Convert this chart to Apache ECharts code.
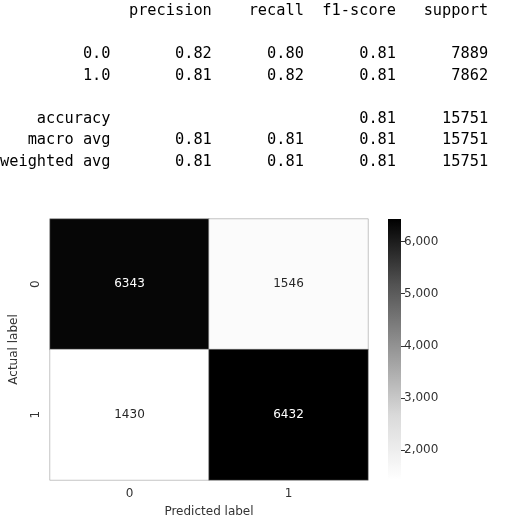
<!DOCTYPE html>
<html>
<head>
<meta charset="utf-8">
<script src="https://cdn.jsdelivr.net/npm/echarts@6/dist/echarts.min.js"></script>
<style>html,body{margin:0;padding:0;background:#fff}#main{width:507px;height:526px}</style>
</head>
<body>
<div id="main"></div>
<script>
var chartDom = document.getElementById('main');
var myChart = echarts.init(chartDom);

// 分类报告
var reportHead = ['precision', 'recall', 'f1-score', 'support'];
var reportNames = ['0.0', '1.0'];
var reportRows = [[0.82, 0.80, 0.81, 7889], [0.81, 0.82, 0.81, 7862]];
var accuracy = [0.81, 15751];
var avgNames = ['macro avg', 'weighted avg'];
var avgRows = [[0.81, 0.81, 0.81, 15751], [0.81, 0.81, 0.81, 15751]];

// 混淆矩阵
var labels = ['0', '1'];
var matrix = [[6343, 1546], [1430, 6432]];
var vMin = 1430, vMax = 6432;
var cbTicks = [2000, 3000, 4000, 5000, 6000];

function padL(s, n) { s = String(s); while (s.length < n) s = ' ' + s; return s; }
function row(name, r) {
    return padL(name, 12) + ' ' + ' ' + padL(r[0].toFixed(2), 9) + ' ' + padL(r[1].toFixed(2), 9) +
        ' ' + padL(r[2].toFixed(2), 9) + ' ' + padL(r[3], 9);
}
var lines = [];
lines.push(padL('', 12) + ' ' + reportHead.map(function(h) { return ' ' + padL(h, 9); }).join(''));
lines.push('');
for (var i = 0; i < reportNames.length; i++) lines.push(row(reportNames[i], reportRows[i]));
lines.push('');
lines.push(padL('accuracy', 12) + ' ' + padL('', 10) + padL('', 10) + ' ' + padL(accuracy[0].toFixed(2), 9) + ' ' + padL(accuracy[1], 9));
for (var i = 0; i < avgNames.length; i++) lines.push(row(avgNames[i], avgRows[i]));

var cells = [];
for (var r = 0; r < matrix.length; r++) {
    for (var c = 0; c < matrix[r].length; c++) {
        var v = matrix[r][c];
        cells.push({ value: [c, r, v], label: { color: v > (vMin + vMax) / 2 ? '#ffffff' : '#262626' } });
    }
}

var font = 'DejaVu Sans';
var option = {
    animation: false,
    graphic: [{
        type: 'text', left: 0, top: 0,
        style: { text: lines.join('\n'), font: '15.3px "DejaVu Sans Mono"', lineHeight: 21.6, fill: '#000' }
    }],
    grid: [
        { left: 46, right: 139, top: 219, bottom: 46 },
        { left: 388, width: 13, top: 219, bottom: 46 }
    ],
    xAxis: [{
        type: 'category', data: labels, gridIndex: 0,
        name: 'Predicted label', nameLocation: 'middle', nameGap: 26,
        nameTextStyle: { fontFamily: font, fontSize: 12, color: '#333' },
        axisLine: { show: false }, splitLine: { show: false },
        axisTick: { alignWithLabel: true, length: 4, lineStyle: { color: '#333' } },
        axisLabel: { fontFamily: font, fontSize: 12, color: '#333', margin: 8 }
    }, {
        type: 'category', data: ['c'], gridIndex: 1, show: false
    }],
    yAxis: [{
        type: 'category', data: labels, gridIndex: 0, inverse: true,
        name: 'Actual label', nameLocation: 'middle', nameGap: 30,
        nameTextStyle: { fontFamily: font, fontSize: 12, color: '#333' },
        axisLine: { show: false }, splitLine: { show: false },
        axisTick: { alignWithLabel: true, length: 4, lineStyle: { color: '#333' } },
        axisLabel: { fontFamily: font, fontSize: 12, color: '#333', rotate: 90, margin: 8 }
    }, {
        type: 'value', gridIndex: 1, position: 'right', min: vMin, max: vMax,
        axisLine: { show: false }, splitLine: { show: false },
        axisTick: { show: true, length: 4, customValues: cbTicks, lineStyle: { color: '#333' } },
        axisLabel: { customValues: cbTicks, fontFamily: font, fontSize: 12, color: '#333', margin: 3 }
    }],
    visualMap: {
        show: false, seriesIndex: 0, min: vMin, max: vMax, dimension: 2,
        inRange: { color: ['#ffffff', '#d9d9d9', '#969696', '#525252', '#000000'] }
    },
    series: [{
        type: 'heatmap', xAxisIndex: 0, yAxisIndex: 0, data: cells,
        itemStyle: { borderColor: '#888', borderWidth: 0.5 },
        label: { show: true, fontFamily: font, fontSize: 12 }
    }, {
        type: 'bar', xAxisIndex: 1, yAxisIndex: 1, stack: 'cb', barWidth: '100%',
        data: [vMin], itemStyle: { color: 'transparent' }, silent: true
    }, {
        type: 'bar', xAxisIndex: 1, yAxisIndex: 1, stack: 'cb', barWidth: '100%',
        data: [vMax - vMin], silent: true,
        itemStyle: {
            color: new echarts.graphic.LinearGradient(0, 0, 0, 1, [
                { offset: 0, color: '#000000' }, { offset: 0.25, color: '#525252' },
                { offset: 0.5, color: '#969696' }, { offset: 0.75, color: '#d9d9d9' },
                { offset: 1, color: '#ffffff' }
            ])
        }
    }]
};
option && myChart.setOption(option);
</script>
</body>
</html>
